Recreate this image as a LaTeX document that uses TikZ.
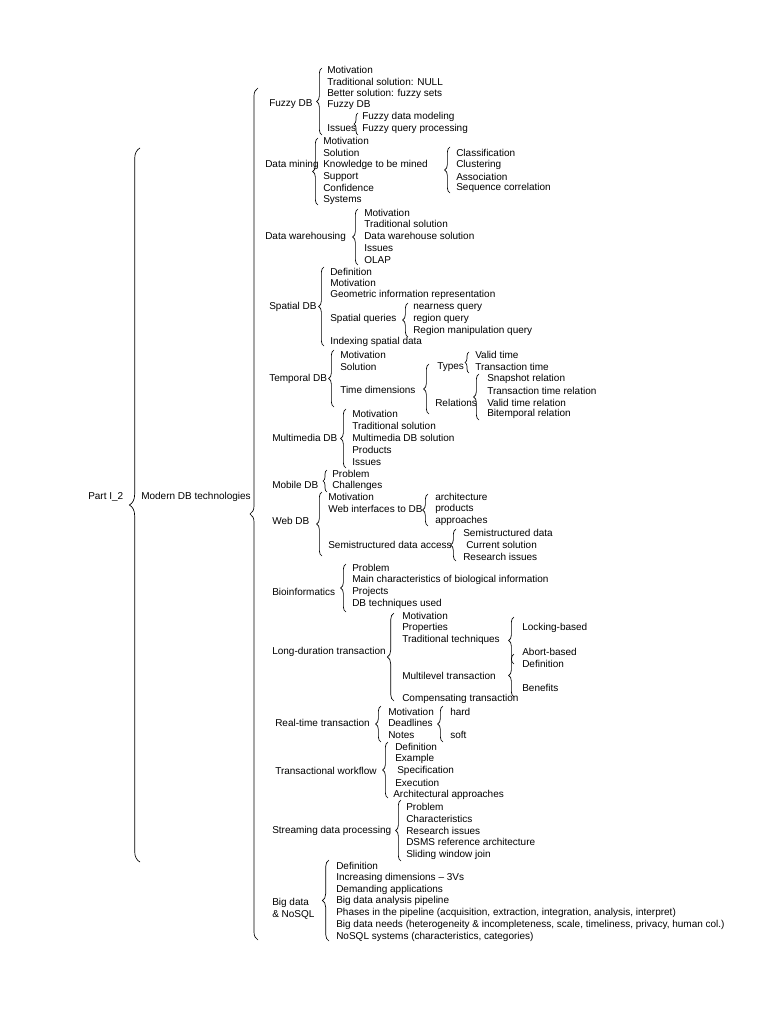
\documentclass[tikz,border=0pt]{standalone}
\usepackage{fontspec}
\setmainfont{Liberation Sans}
\usetikzlibrary{decorations.pathreplacing}
\begin{document}
\begin{tikzpicture}[x=0.75pt,y=-0.75pt,
  lbl/.style={anchor=west,inner sep=0pt,font=\fontsize{7.5}{9}\selectfont},
  brc/.style={decorate,decoration={brace,amplitude=4pt},line width=0.5pt}]
\useasboundingbox (0,0) rectangle (768,1024);
\newcommand{\br}[4][4pt]{\draw[brc,decoration={brace,amplitude=#1}] (#2,#4) -- (#2,#3);}
\newcommand{\tx}[4]{\node[lbl] (#1) at (#2,#3) {#4};}
\tx{p}{88}{497}{Part I\_2}
\br[8pt]{140}{148}{862}
\tx{m}{141}{497}{Modern DB technologies}
\br[6pt]{258}{88}{940}
% Fuzzy
\tx{f}{269}{104}{Fuzzy DB}
\br{322}{68}{135}
\tx{f1}{327}{70}{Motivation}
\tx{f2}{327}{82}{Traditional solution: NULL}
\tx{f3}{327}{94}{Better solution: fuzzy sets}
\tx{f4}{327}{105}{Fuzzy DB}
\tx{f5}{327}{128}{Issues}
\br[3pt]{358}{113}{135}
\tx{f6}{362}{117}{Fuzzy data modeling}
\tx{f7}{362}{129}{Fuzzy query processing}
% Data mining
\tx{d}{265}{165}{Data mining}
\br{318}{138}{205}
\tx{d1}{323}{141}{Motivation}
\tx{d2}{323}{153}{Solution}
\tx{d3}{323}{165}{Knowledge to be mined}
\tx{d4}{323}{177}{Support}
\tx{d5}{323}{188}{Confidence}
\tx{d6}{323}{200}{Systems}
\br{450}{147}{193}
\tx{d7}{456}{153}{Classification}
\tx{d8}{456}{165}{Clustering}
\tx{d9}{456}{177}{Association}
\tx{d10}{456}{188}{Sequence correlation}
% Warehousing
\tx{w}{265}{237}{Data warehousing}
\br{358}{209}{265}
\tx{w1}{364}{213}{Motivation}
\tx{w2}{364}{224}{Traditional solution}
\tx{w3}{364}{236}{Data warehouse solution}
\tx{w4}{364}{248}{Issues}
\tx{w5}{364}{260}{OLAP}
% Spatial
\tx{s}{269}{307}{Spatial DB}
\br{324}{267}{346}
\tx{s1}{330}{272}{Definition}
\tx{s2}{330}{283}{Motivation}
\tx{s3}{330}{295}{Geometric information representation}
\tx{s4}{330}{319}{Spatial queries}
\tx{s5}{330}{342}{Indexing spatial data}
\br{408}{303}{337}
\tx{s6}{413}{308}{nearness query}
\tx{s7}{413}{319}{region query}
\tx{s8}{413}{331}{Region manipulation query}
% Temporal
\tx{t}{269}{379}{Temporal DB}
\br{334}{350}{407}
\tx{t1}{340}{355}{Motivation}
\tx{t2}{340}{367}{Solution}
\tx{t3}{340}{390}{Time dimensions}
\br{429}{364}{414}
\tx{t4}{437}{367}{Types}
\tx{t5}{435}{403}{Relations}
\br[3pt]{469}{352}{373}
\tx{t6}{475}{355}{Valid time}
\tx{t7}{475}{367}{Transaction time}
\br{479}{374}{420}
\tx{t8}{487}{379}{Snapshot relation}
\tx{t9}{487}{391}{Transaction time relation}
\tx{t10}{487}{403}{Valid time relation}
\tx{t11}{487}{414}{Bitemporal relation}
% Multimedia
\tx{mm}{272}{438}{Multimedia DB}
\br{346}{409}{468}
\tx{mm1}{352}{414}{Motivation}
\tx{mm2}{352}{426}{Traditional solution}
\tx{mm3}{352}{438}{Multimedia DB solution}
\tx{mm4}{352}{450}{Products}
\tx{mm5}{352}{462}{Issues}
% Mobile
\tx{mo}{272}{485}{Mobile DB}
\br[3pt]{327}{470}{492}
\tx{mo1}{332}{474}{Problem}
\tx{mo2}{332}{486}{Challenges}
% Web
\tx{wb}{272}{521}{Web DB}
\br{322}{492}{556}
\tx{wb1}{328}{497}{Motivation}
\tx{wb2}{328}{509}{Web interfaces to DB}
\tx{wb3}{328}{545}{Semistructured data access}
\br{428}{494}{526}
\tx{wb4}{435}{497}{architecture}
\tx{wb5}{435}{509}{products}
\tx{wb6}{435}{521}{approaches}
\br{456}{529}{561}
\tx{wb7}{463}{533}{Semistructured data}
\tx{wb8}{466}{545}{Current solution}
\tx{wb9}{463}{557}{Research issues}
% Bio
\tx{b}{272}{592}{Bioinformatics}
\br{346}{564}{612}
\tx{b1}{352}{568}{Problem}
\tx{b2}{352}{580}{Main characteristics of biological information}
\tx{b3}{352}{592}{Projects}
\tx{b4}{352}{604}{DB techniques used}
% Long
\tx{l}{272}{652}{Long-duration transaction}
\br[5pt]{394}{613}{701}
\tx{l1}{402}{616}{Motivation}
\tx{l2}{402}{628}{Properties}
\tx{l3}{402}{640}{Traditional techniques}
\tx{l4}{402}{676}{Multilevel transaction}
\tx{l5}{402}{699}{Compensating transaction}
\br{514}{617}{664}
\tx{l6}{522}{628}{Locking-based}
\tx{l7}{522}{652}{Abort-based}
\br{514}{654}{697}
\tx{l8}{522}{664}{Definition}
\tx{l9}{522}{688}{Benefits}
% Real-time
\tx{r}{275}{723}{Real-time transaction}
\br{381}{706}{742}
\tx{r1}{388}{712}{Motivation}
\tx{r2}{388}{723}{Deadlines}
\tx{r3}{388}{735}{Notes}
\br{443}{706}{742}
\tx{r4}{450}{712}{hard}
\tx{r5}{450}{735}{soft}
% Workflow
\tx{tw}{275}{771}{Transactional workflow}
\br{388}{742}{798}
\tx{tw1}{395}{747}{Definition}
\tx{tw2}{395}{759}{Example}
\tx{tw3}{397}{771}{Specification}
\tx{tw4}{395}{783}{Execution}
\tx{tw5}{393}{795}{Architectural approaches}
% Streaming
\tx{st}{272}{831}{Streaming data processing}
\br{401}{800}{861}
\tx{st1}{406}{807}{Problem}
\tx{st2}{406}{819}{Characteristics}
\tx{st3}{406}{831}{Research issues}
\tx{st4}{406}{842}{DSMS reference architecture}
\tx{st5}{406}{855}{Sliding window join}
% Big data
\tx{bd}{272}{903}{Big data}
\tx{bd0}{272}{915}{\& NoSQL}
\br[5pt]{329}{860}{941}
\tx{bd1}{336}{866}{Definition}
\tx{bd2}{336}{878}{Increasing dimensions -- 3Vs}
\tx{bd3}{336}{890}{Demanding applications}
\tx{bd4}{336}{901}{Big data analysis pipeline}
\tx{bd5}{336}{913}{Phases in the pipeline (acquisition, extraction, integration, analysis, interpret)}
\tx{bd6}{336}{925}{Big data needs (heterogeneity \& incompleteness, scale, timeliness, privacy, human col.)}
\tx{bd7}{336}{937}{NoSQL systems (characteristics, categories)}
\end{tikzpicture}
\end{document}
